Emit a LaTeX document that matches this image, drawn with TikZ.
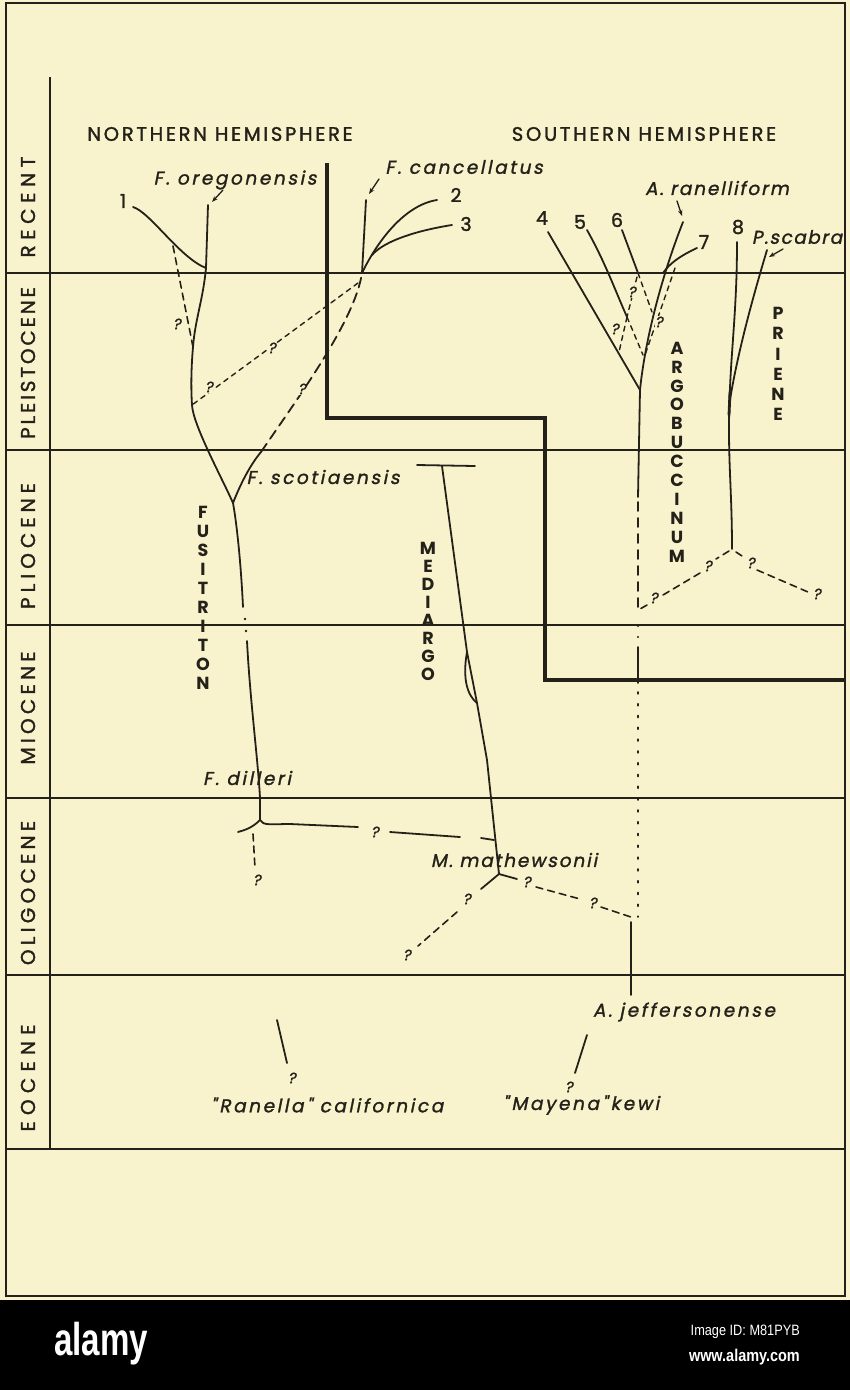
\documentclass[tikz,border=0pt]{standalone}
\usepackage{fontspec}
\setmainfont{Poppins}
\newfontfamily\capsfont[LetterSpace=14,FakeBold=1.6]{Poppins}
\newfontfamily\itfont[FakeSlant=0.2,LetterSpace=14,FakeBold=1.4]{Poppins}
\newfontfamily\numfont[FakeBold=1.6]{Poppins}
\newfontfamily\wmfont{Liberation Sans}
\usetikzlibrary{arrows.meta}
\definecolor{paper}{RGB}{249,243,205}
\definecolor{ink}{RGB}{35,33,25}
\begin{document}
\begin{tikzpicture}[x=1pt,y=-1pt,
  ln/.style={draw=ink, line width=1.8pt, line cap=round},
  frm/.style={draw=ink, line width=1.5pt},
  bnd/.style={draw=ink, line width=3.8pt},
  dsh/.style={ln, line width=1.6pt, dash pattern=on 7pt off 5pt},
  dshl/.style={ln, dash pattern=on 10pt off 6pt},
  dshs/.style={ln, line width=1.4pt, dash pattern=on 5pt off 4.5pt},
  dot/.style={ln, dash pattern=on 1.8pt off 10pt},
  lab/.style={font=\itfont\fontsize{18.5}{20}\selectfont, text=ink, inner sep=0pt},
  num/.style={font=\numfont\fontsize{19}{20}\selectfont, text=ink, inner sep=0pt},
  qm/.style={font=\itfont\fontsize{15}{16}\selectfont, text=ink, inner sep=0.5pt},
  qf/.style={qm, fill=paper},
  epoch/.style={font=\capsfont\fontsize{20}{20}\selectfont, text=ink, rotate=90, inner sep=0pt},
  head/.style={font=\capsfont\fontsize{19.5}{20}\selectfont, text=ink, inner sep=0pt},
  genus/.style={text=ink, align=center, inner sep=0pt},
  arr/.style={ln, line width=1.3pt, -{Stealth[length=6pt,width=4.5pt]}},
]
\useasboundingbox (0,0) rectangle (850,1390);
\fill[paper] (0,0) rectangle (850,1300);
\fill[black] (0,1300) rectangle (850,1390);

% ---------- frame and epochs ----------
\draw[frm, line width=2.2pt] (6,3) rectangle (845,1296);
\draw[frm] (50,77) -- (50,1149);
\foreach \yy in {273,450,625,798,975,1149} \draw[frm] (6,\yy) -- (845,\yy);

\node[epoch] (recent) at (28,207) {\addfontfeatures{LetterSpace=28}RECENT};
\node[epoch] (pleis) at (28,363) {PLEISTOCENE};
\node[epoch] (plio) at (28,546) {\addfontfeatures{LetterSpace=25}PLIOCENE};
\node[epoch] (mio) at (28,708) {\addfontfeatures{LetterSpace=21}MIOCENE};
\node[epoch] (oligo) at (28,893) {\addfontfeatures{LetterSpace=21}OLIGOCENE};
\node[epoch] (eoc) at (28,1078) {\addfontfeatures{LetterSpace=31}EOCENE};

\node[head] (north) at (220,134) {NORTHERN HEMISPHERE};
\node[head] (south) at (644,134) {SOUTHERN HEMISPHERE};

% ---------- hemisphere boundary ----------
\coordinate (b1) at (327,163);
\coordinate (b2) at (327,418);
\coordinate (b3) at (545,418);
\coordinate (b4) at (545,680);
\coordinate (b5) at (845,680);
\draw[bnd] (b1) -- (b2) -- (b3) -- (b4) -- (b5);

% ---------- Fusitriton ----------
\coordinate (o1top) at (133,207);
\coordinate (ojoin) at (206,268);
\coordinate (otop) at (208,205);
\coordinate (oq) at (193,347);
\coordinate (oc) at (192,405);
\coordinate (sfork) at (233,503);
\coordinate (s1) at (261,452);
\coordinate (cbase) at (362,273);
\coordinate (ctop) at (366,200);
\coordinate (c2) at (437,200);
\coordinate (c3b) at (372,255);
\coordinate (c3) at (452,225);
\coordinate (fd1) at (243,607);
\coordinate (fd2) at (247,641);
\coordinate (dtop) at (260,798);
\coordinate (dfork) at (260,820);
\coordinate (b1start) at (173,246);

\node[num] (n1) at (123,201) {1};
\node[lab] (oreg) at (235,180) {F. oregonensis};
\node[lab] (canc) at (464,167) {F. cancellatus};
\node[num] (n2) at (456,195) {2};
\node[num] (n3) at (466,224) {3};

\draw[ln] (o1top) .. controls (150,212) and (180,258) .. (ojoin);
\draw[ln] (otop) -- (ojoin) .. controls (203,300) and (195,320) .. (oq)
          .. controls (191,370) and (191,390) .. (oc)
          .. controls (193,425) and (222,478) .. (sfork)
          .. controls (237,525) and (241,565) .. (fd1);
\draw[ln] (fd2) .. controls (250,700) and (258,760) .. (dtop) -- (dfork);
\fill[ink] (245,619) circle (1.3pt) (246,631) circle (1.3pt);
\draw[dsh] (b1start) -- (oq);
\node[qm] (q1) at (177,324) {?};

\draw[ln] (sfork) .. controls (240,485) and (250,465) .. (s1);
\draw[dshl] (s1) .. controls (300,395) and (355,320) .. (cbase);
\node[qf] (q2) at (302,389) {?};
\draw[dshs] (358,283) -- (oc);
\node[qf] (q3) at (272,348) {?};
\node[qf] (q4) at (209,387) {?};

\draw[ln] (cbase) -- (ctop);
\draw[ln] (cbase) .. controls (378,240) and (405,205) .. (c2);
\draw[ln] (c3b) .. controls (385,240) and (420,230) .. (c3);
\draw[arr] (223,190) -- (212,202);
\draw[arr] (379,179) -- (369,194);

\node[lab] (scot) at (323,477) {F. scotiaensis};
\node[genus, font=\fontsize{17.5}{19}\selectfont\bfseries] (fusi) at (203,598)
  {F\\U\\S\\I\\T\\R\\I\\T\\O\\N};
\node[lab] (dill) at (247,778) {F. dilleri};

\draw[ln] (dfork) .. controls (252,828) and (245,830) .. (238,832);
\draw[ln] (dfork) .. controls (263,826) and (272,824) .. (290,824) -- (358,827);
\node[qm] (q5) at (375,832) {?};
\draw[ln] (390,832) -- (460,837);
\draw[ln] (481,838) -- (494,840);
\draw[dsh] (253,834) -- (255,868);
\node[qm] (q6) at (257,880) {?};

% ---------- Mediargo ----------
\coordinate (mbl) at (417,465);
\coordinate (mbr) at (475,466);
\coordinate (mtop) at (442,466);
\coordinate (ml1) at (467,652);
\coordinate (ml2) at (477,703);
\coordinate (mfork) at (499,874);
\draw[ln] (mbl) -- (mbr);
\draw[ln] (mtop) -- (ml1) -- (ml2) -- (487,760) -- (mfork);
\draw[ln] (ml1) .. controls (462,680) and (468,696) .. (ml2);
\node[genus, font=\fontsize{17.5}{18}\selectfont\bfseries] (medi) at (428,611)
  {M\\E\\D\\I\\A\\R\\G\\O};
\node[lab] (math) at (514,860) {\addfontfeatures{LetterSpace=10}M. mathewsonii};
\draw[ln] (mfork) -- (481,889);
\node[qm] (q7) at (467,899) {?};
\draw[dsh] (457,912) -- (418,946);
\node[qm] (q8) at (407,955) {?};
\draw[ln] (mfork) -- (517,879);
\node[qm] (q9) at (527,882) {?};
\draw[dsh] (536,887) -- (580,899);
\node[qm] (q10) at (593,903) {?};
\draw[dsh] (601,907) -- (631,917);

% ---------- Argobuccinum ----------
\coordinate (afork) at (640,390);
\coordinate (a4) at (548,232);
\coordinate (a5) at (587,230);
\coordinate (a5e) at (627,317);
\coordinate (a6) at (622,230);
\coordinate (a6e) at (638,273);
\coordinate (ar) at (683,222);
\coordinate (a7) at (697,248);
\coordinate (a7j) at (663,273);
\node[num] (n4) at (542,218) {4};
\node[num] (n5) at (580,222) {5};
\node[num] (n6) at (617,220) {6};
\node[num] (n7) at (704,242) {7};
\node[lab] (ranel) at (717,188) {\addfontfeatures{LetterSpace=10}A. ranelliform};
\draw[arr] (677,201) -- (682,216);
\draw[ln] (a4) -- (afork);
\draw[ln] (a5) .. controls (605,262) and (615,290) .. (a5e);
\draw[ln] (a6) -- (a6e);
\draw[ln] (ar) .. controls (662,275) and (645,340) .. (afork);
\draw[ln] (a7) .. controls (680,256) and (670,263) .. (a7j);
\draw[dshs] (a5e) -- (643,355);
\draw[dshs] (a5e) -- (619,352);
\draw[dshs] (a6e) -- (652,312);
\draw[dshs] (637,277) -- (a5e);
\draw[dshs] (675,268) -- (645,355);
\node[qf] (q11) at (632,292) {?};
\node[qm] (q12) at (615,329) {?};
\node[qf] (q13) at (659,322) {?};
\node[genus, font=\fontsize{17.5}{18.9}\selectfont\bfseries] (argo) at (677,452)
  {A\\R\\G\\O\\B\\U\\C\\C\\I\\N\\U\\M};
\draw[ln] (afork) -- (638,497);
\draw[ln, dash pattern=on 9pt off 7pt] (638,502) -- (638,612);
\fill[ink] (638,626) circle (1.2pt) (638,637) circle (1.2pt);
\draw[ln] (638,647) -- (638,683);
\draw[dot] (638,692) -- (638,917);
\draw[ln] (631,922) -- (631,995);
\node[lab] (jeff) at (684,1012) {A. jeffersonense};

% ---------- Priene ----------
\coordinate (p8) at (737,242);
\coordinate (ps) at (767,250);
\coordinate (pmerge) at (730,400);
\coordinate (pfork) at (732,549);
\node[num] (n8) at (738,227) {8};
\node[lab] (scab) at (797,237) {\addfontfeatures{LetterSpace=8}P.scabra};
\draw[arr] (783,249) -- (769,257);
\draw[ln] (p8) .. controls (737,320) and (729,360) .. (729,430) .. controls (729,470) and (732,500) .. (pfork);
\draw[ln] (ps) .. controls (755,290) and (738,350) .. (pmerge);
\draw[ln, line width=2.8pt] (730,392) -- (729,415);
\node[genus, font=\fontsize{17.5}{20.2}\selectfont\bfseries] (prie) at (778,364)
  {P\\R\\I\\E\\N\\E};
\draw[dsh] (729,551) -- (716,559);
\node[qm] (q14) at (708,566) {?};
\draw[dsh] (700,573) -- (663,595);
\node[qm] (q15) at (654,598) {?};
\draw[dsh] (647,605) -- (640,609);
\draw[dsh] (736,552) -- (745,558);
\node[qm] (q16) at (751,563) {?};
\draw[dsh] (757,570) -- (808,592);
\node[qm] (q17) at (817,594) {?};

% ---------- Eocene ----------
\draw[ln] (277,1020) -- (287,1063);
\node[qm] (q18) at (292,1078) {?};
\node[lab] (rane) at (327,1105) {"\,Ranella\," californica};
\draw[ln] (587,1035) -- (575,1073);
\node[qm] (q19) at (569,1087) {?};
\node[lab] (maye) at (581,1105) {"\,Mayena\,"\,kewi};

% ---------- band ----------
\node[font=\wmfont\bfseries\fontsize{46}{46}\selectfont, text=white, xscale=0.72, inner sep=0] (alamy) at (101,1344) {alamy};
\node[font=\wmfont\fontsize{15}{16}\selectfont, text=white, anchor=east, xscale=0.85, inner sep=0] (imgid) at (800,1332) {Image ID: M81PYB};
\node[font=\wmfont\bfseries\fontsize{17}{18}\selectfont, text=white, anchor=east, xscale=0.85, inner sep=0] (www) at (800,1357) {www.alamy.com};
\end{tikzpicture}
\end{document}
